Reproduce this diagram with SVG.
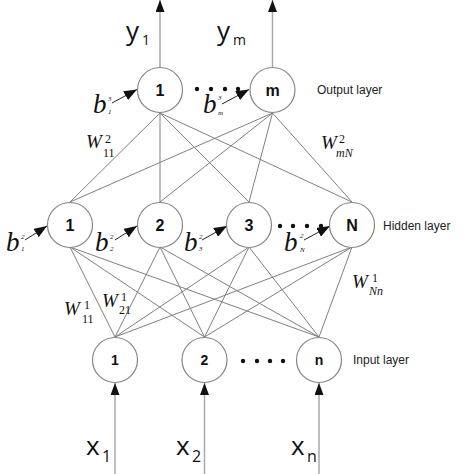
<svg xmlns="http://www.w3.org/2000/svg" width="474" height="474" viewBox="0 0 474 474">
<style>
.node{fill:#fff;stroke:#858585;stroke-width:1.2}
.lbl{font-family:Arial,"Liberation Sans",sans-serif;font-weight:bold;text-anchor:middle;fill:#111}
.conn{stroke:#808080;stroke-width:1;fill:none}
.io{stroke:#a8a8a8;stroke-width:1.5;fill:none}
.bias{stroke:#222;stroke-width:1;fill:none}
.layer{font-family:Arial,"Liberation Sans",sans-serif;font-size:12px;fill:#222}
.var{font-family:"Open Sans","Noto Sans",sans-serif;fill:#111}
.wi{font-family:"Liberation Serif","DejaVu Serif",serif;font-style:italic;fill:#111}
.wn{font-family:"Liberation Serif","DejaVu Serif",serif;font-style:normal;fill:#111}
.b{font-family:"Liberation Serif","DejaVu Serif",serif;font-style:italic;fill:#111}
.dot{fill:#111}
</style>
<defs>
<marker id="ah" markerWidth="12" markerHeight="9" refX="12" refY="4.5" orient="auto" markerUnits="userSpaceOnUse">
<path d="M0,0 L12,4.5 L0,9 Z" fill="#111"/>
</marker>
<marker id="ahb" markerWidth="13" markerHeight="10" refX="13" refY="5" orient="auto" markerUnits="userSpaceOnUse">
<path d="M0,0 L13,5 L0,10 Z" fill="#111"/>
</marker>
</defs>
<rect width="474" height="474" fill="#fff"/>
<g id="connectors">
<line class="conn" x1="115" y1="337" x2="70" y2="247"/>
<line class="conn" x1="115" y1="337" x2="160" y2="247"/>
<line class="conn" x1="115" y1="337" x2="249" y2="247"/>
<line class="conn" x1="115" y1="337" x2="352" y2="247"/>
<line class="conn" x1="204.5" y1="337" x2="70" y2="247"/>
<line class="conn" x1="204.5" y1="337" x2="160" y2="247"/>
<line class="conn" x1="204.5" y1="337" x2="249" y2="247"/>
<line class="conn" x1="204.5" y1="337" x2="352" y2="247"/>
<line class="conn" x1="319" y1="337" x2="70" y2="247"/>
<line class="conn" x1="319" y1="337" x2="160" y2="247"/>
<line class="conn" x1="319" y1="337" x2="249" y2="247"/>
<line class="conn" x1="319" y1="337" x2="352" y2="247"/>
<line class="conn" x1="70" y1="202" x2="160" y2="113"/>
<line class="conn" x1="160" y1="202" x2="160" y2="113"/>
<line class="conn" x1="249" y1="202" x2="160" y2="113"/>
<line class="conn" x1="352" y1="202" x2="160" y2="113"/>
<line class="conn" x1="70" y1="202" x2="272.5" y2="113"/>
<line class="conn" x1="160" y1="202" x2="272.5" y2="113"/>
<line class="conn" x1="249" y1="202" x2="272.5" y2="113"/>
<line class="conn" x1="352" y1="202" x2="272.5" y2="113"/>
<line class="io" x1="160" y1="67" x2="160" y2="0" marker-end="url(#ah)"/>
<line class="io" x1="272.5" y1="67" x2="272.5" y2="0" marker-end="url(#ah)"/>
<line class="io" x1="115" y1="474" x2="115" y2="383" marker-end="url(#ah)"/>
<line class="io" x1="204.5" y1="474" x2="204.5" y2="383" marker-end="url(#ah)"/>
<line class="io" x1="319" y1="474" x2="319" y2="383" marker-end="url(#ah)"/>
<line class="bias" x1="112" y1="103" x2="137" y2="89.5" marker-end="url(#ahb)"/>
<line class="bias" x1="222" y1="104" x2="249" y2="89.5" marker-end="url(#ahb)"/>
<line class="bias" x1="25" y1="240" x2="47" y2="226" marker-end="url(#ahb)"/>
<line class="bias" x1="115" y1="240" x2="137" y2="226" marker-end="url(#ahb)"/>
<line class="bias" x1="202" y1="240" x2="227" y2="226" marker-end="url(#ahb)"/>
<line class="bias" x1="304" y1="240" x2="330" y2="226" marker-end="url(#ahb)"/>
</g>
<g id="output-layer">
<g id="out1"><circle class="node" cx="160" cy="90" r="22.5"/><text class="lbl" x="160" y="96" font-size="16">1</text></g>
<g id="outm"><circle class="node" cx="272.5" cy="90" r="22.5"/><text class="lbl" x="272.5" y="96" font-size="16">m</text></g>
<circle class="dot" cx="197" cy="89" r="2.2"/><circle class="dot" cx="211" cy="89" r="2.2"/><circle class="dot" cx="225" cy="89" r="2.2"/><circle class="dot" cx="238" cy="89" r="2.2"/>
<text class="layer" x="317" y="94">Output layer</text>
</g>
<g id="hidden-layer">
<g id="h1"><circle class="node" cx="70" cy="225" r="22.5"/><text class="lbl" x="70" y="231" font-size="16">1</text></g>
<g id="h2"><circle class="node" cx="160" cy="225" r="22.5"/><text class="lbl" x="160" y="231" font-size="16">2</text></g>
<g id="h3"><circle class="node" cx="249" cy="225" r="22.5"/><text class="lbl" x="249" y="231" font-size="16">3</text></g>
<g id="hN"><circle class="node" cx="352" cy="225" r="22.5"/><text class="lbl" x="352" y="231" font-size="16">N</text></g>
<circle class="dot" cx="280" cy="226" r="2.2"/><circle class="dot" cx="293" cy="226" r="2.2"/><circle class="dot" cx="307" cy="226" r="2.2"/><circle class="dot" cx="321" cy="226" r="2.2"/>
<text class="layer" x="383" y="230">Hidden layer</text>
</g>
<g id="input-layer">
<g id="i1"><circle class="node" cx="115" cy="360" r="22.5"/><text class="lbl" x="115" y="365" font-size="14">1</text></g>
<g id="i2"><circle class="node" cx="204.5" cy="360" r="22.5"/><text class="lbl" x="204.5" y="365" font-size="14">2</text></g>
<g id="in"><circle class="node" cx="319" cy="360" r="22.5"/><text class="lbl" x="319" y="365" font-size="14">n</text></g>
<circle class="dot" cx="243" cy="361" r="2.2"/><circle class="dot" cx="257" cy="361" r="2.2"/><circle class="dot" cx="270" cy="361" r="2.2"/><circle class="dot" cx="283" cy="361" r="2.2"/>
<text class="layer" x="353" y="364">Input layer</text>
</g>
<g id="io-labels">
<text class="var" x="126" y="40" font-size="26">y</text><text class="var" x="142" y="45" font-size="14">1</text>
<text class="var" x="217" y="40" font-size="26">y</text><text class="var" x="233" y="45" font-size="14">m</text>
<text class="var" x="86" y="455" font-size="26">x</text><text class="var" x="102" y="462" font-size="16">1</text>
<text class="var" x="176" y="455" font-size="26">x</text><text class="var" x="192" y="462" font-size="16">2</text>
<text class="var" x="291" y="455" font-size="26">x</text><text class="var" x="307" y="462" font-size="16">n</text>
</g>
<g id="bias-labels">
<text class="b" x="93" y="113" font-size="27">b</text><text class="b" x="108" y="101" font-size="7">3</text><text class="b" x="108" y="114" font-size="7">1</text>
<text class="b" x="203" y="113" font-size="27">b</text><text class="b" x="218" y="100" font-size="7">3</text><text class="b" x="218" y="115" font-size="7">m</text>
<text class="b" x="6" y="251" font-size="27">b</text><text class="b" x="21" y="239" font-size="7">2</text><text class="b" x="21" y="251" font-size="7">1</text>
<text class="b" x="95" y="251" font-size="27">b</text><text class="b" x="110" y="239" font-size="7">2</text><text class="b" x="110" y="251" font-size="7">2</text>
<text class="b" x="184" y="251" font-size="27">b</text><text class="b" x="199" y="239" font-size="7">2</text><text class="b" x="199" y="251" font-size="7">3</text>
<text class="b" x="284" y="251" font-size="27">b</text><text class="b" x="300" y="238" font-size="7">2</text><text class="b" x="300" y="252" font-size="7">N</text>
</g>
<g id="weight-labels">
<text class="wi" x="86" y="148" font-size="19">W</text><text class="wn" x="105" y="143" font-size="12">2</text><text class="wn" x="103" y="157" font-size="12">11</text>
<text class="wi" x="321" y="149" font-size="19">W</text><text class="wn" x="339" y="143" font-size="12">2</text><text class="wi" x="336" y="157" font-size="12">mN</text>
<text class="wi" x="64" y="315" font-size="19">W</text><text class="wn" x="84" y="309" font-size="12">1</text><text class="wn" x="82" y="323" font-size="12">11</text>
<text class="wi" x="102" y="307" font-size="19">W</text><text class="wn" x="121" y="301" font-size="12">1</text><text class="wn" x="119" y="314" font-size="12">21</text>
<text class="wi" x="352" y="288" font-size="19">W</text><text class="wn" x="372" y="282" font-size="12">1</text><text class="wi" x="369" y="295" font-size="12">Nn</text>
</g>
</svg>
